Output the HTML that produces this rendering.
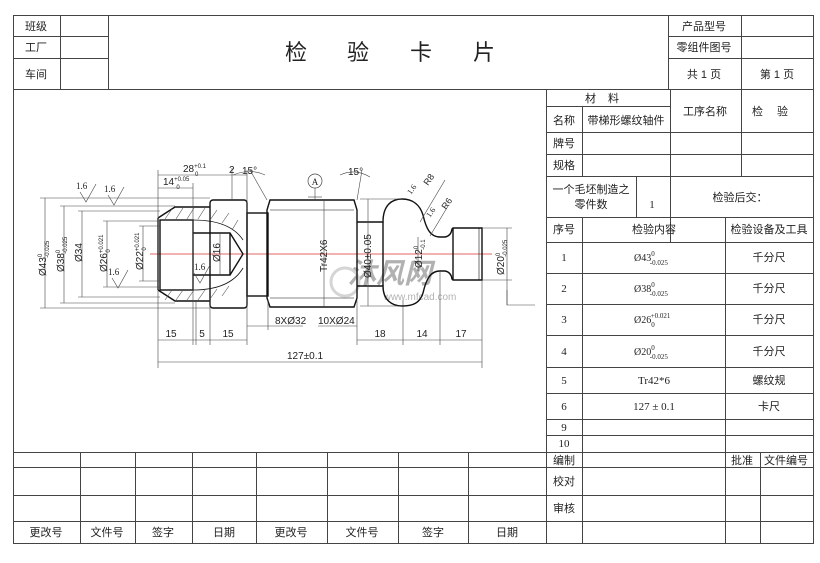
<!DOCTYPE html>
<html><head><meta charset="utf-8"><style>
html,body{margin:0;padding:0;background:#fff}
svg{display:block}
text{font-family:"Liberation Sans","Noto Sans CJK SC",sans-serif;fill:#222}
.s{font-family:"Liberation Serif","Noto Serif CJK SC",serif}
</style></head><body>
<svg width="820" height="563" viewBox="0 0 820 563" xmlns="http://www.w3.org/2000/svg">
<g stroke="#444" stroke-width="1" fill="none">
<rect x="13.5" y="15.5" width="800" height="528"/>
<line x1="13" y1="89.5" x2="813" y2="89.5"/>
<line x1="13" y1="36.5" x2="108" y2="36.5"/><line x1="13" y1="58.5" x2="108" y2="58.5"/>
<line x1="668" y1="36.5" x2="813" y2="36.5"/><line x1="668" y1="58.5" x2="813" y2="58.5"/>
<line x1="60.5" y1="15" x2="60.5" y2="89"/><line x1="108.5" y1="15" x2="108.5" y2="89"/>
<line x1="668.5" y1="15" x2="668.5" y2="89"/><line x1="741.5" y1="15" x2="741.5" y2="89"/>
<line x1="546.5" y1="89" x2="546.5" y2="544"/>
<line x1="546" y1="106.5" x2="670" y2="106.5"/>
<line x1="546" y1="132.5" x2="813" y2="132.5"/>
<line x1="546" y1="154.5" x2="813" y2="154.5"/>
<line x1="546" y1="176.5" x2="813" y2="176.5"/>
<line x1="546" y1="217.5" x2="813" y2="217.5"/>
<line x1="546" y1="242.5" x2="813" y2="242.5"/>
<line x1="546" y1="273.5" x2="813" y2="273.5"/>
<line x1="546" y1="304.5" x2="813" y2="304.5"/>
<line x1="546" y1="335.5" x2="813" y2="335.5"/>
<line x1="546" y1="367.5" x2="813" y2="367.5"/>
<line x1="546" y1="393.5" x2="813" y2="393.5"/>
<line x1="546" y1="419.5" x2="813" y2="419.5"/>
<line x1="546" y1="435.5" x2="813" y2="435.5"/>
<line x1="13" y1="452.5" x2="813" y2="452.5"/>
<line x1="13" y1="467.5" x2="813" y2="467.5"/>
<line x1="13" y1="495.5" x2="813" y2="495.5"/>
<line x1="13" y1="521.5" x2="813" y2="521.5"/>
<line x1="582.5" y1="106" x2="582.5" y2="176"/>
<line x1="670.5" y1="89" x2="670.5" y2="242"/>
<line x1="741.5" y1="89" x2="741.5" y2="176"/>
<line x1="636.5" y1="176" x2="636.5" y2="217"/>
<line x1="582.5" y1="217" x2="582.5" y2="544"/>
<line x1="725.5" y1="217" x2="725.5" y2="544"/>
<line x1="760.5" y1="452" x2="760.5" y2="544"/>
<line x1="80.5" y1="452" x2="80.5" y2="544"/><line x1="135.5" y1="452" x2="135.5" y2="544"/>
<line x1="192.5" y1="452" x2="192.5" y2="544"/><line x1="256.5" y1="452" x2="256.5" y2="544"/>
<line x1="327.5" y1="452" x2="327.5" y2="544"/><line x1="398.5" y1="452" x2="398.5" y2="544"/>
<line x1="468.5" y1="452" x2="468.5" y2="544"/>
</g>
<g font-size="11">
<text x="25" y="30">班级</text><text x="25" y="51">工厂</text><text x="25" y="78">车间</text>
<text x="704" y="30" text-anchor="middle">产品型号</text>
<text x="704" y="51" text-anchor="middle">零组件图号</text>
<text x="704" y="78" text-anchor="middle">共 1 页</text>
<text x="777" y="78" text-anchor="middle">第 1 页</text>
</g>
<g font-size="22" text-anchor="middle">
<text x="296" y="60">检</text><text x="358" y="60">验</text><text x="421" y="60">卡</text><text x="484" y="60">片</text>
</g>
<g font-size="11" text-anchor="middle">
<text x="608" y="102" letter-spacing="12">材料</text>
<text x="564" y="124">名称</text><text x="626" y="124">带梯形螺纹轴件</text>
<text x="705" y="115">工序名称</text><text x="777" y="115" letter-spacing="14">检验</text>
<text x="564" y="147">牌号</text><text x="564" y="169">规格</text>
<text x="591" y="193">一个毛坯制造之</text><text x="591" y="208">零件数</text>
<text x="652" y="208" class="s">1</text>
<text x="740" y="201">检验后交：</text>
<text x="564" y="233">序号</text><text x="654" y="233">检验内容</text><text x="769" y="233">检验设备及工具</text>
<text x="769" y="261">千分尺</text><text x="769" y="292">千分尺</text><text x="769" y="323">千分尺</text><text x="769" y="355">千分尺</text>
<text x="769" y="384">螺纹规</text><text x="769" y="410">卡尺</text>
<text x="742" y="464">批准</text><text x="786" y="464">文件编号</text>
</g>
<g font-size="11" class="s" text-anchor="middle">
<text x="564" y="261" class="s">1</text><text x="564" y="292" class="s">2</text><text x="564" y="323" class="s">3</text>
<text x="564" y="355" class="s">4</text><text x="564" y="384" class="s">5</text><text x="564" y="410" class="s">6</text>
<text x="564" y="431" class="s">9</text><text x="564" y="447" class="s">10</text>
<text x="654" y="384" class="s">Tr42*6</text><text x="654" y="410" class="s">127 ± 0.1</text>
</g>
<g font-size="10" class="s">
<text x="634" y="261" class="s">Ø43<tspan font-size="7" dy="-5">0</tspan><tspan font-size="7" dx="-5" dy="9">-0.025</tspan></text>
<text x="634" y="292" class="s">Ø38<tspan font-size="7" dy="-5">0</tspan><tspan font-size="7" dx="-5" dy="9">-0.025</tspan></text>
<text x="634" y="323" class="s">Ø26<tspan font-size="7" dy="4">0</tspan><tspan font-size="7" dx="-4" dy="-9">+0.021</tspan></text>
<text x="634" y="355" class="s">Ø20<tspan font-size="7" dy="-5">0</tspan><tspan font-size="7" dx="-5" dy="9">-0.025</tspan></text>
</g>
<g font-size="11" text-anchor="middle">
<text x="564" y="464">编制</text><text x="564" y="485">校对</text><text x="564" y="512">审核</text>
<text x="46" y="536">更改号</text><text x="107" y="536">文件号</text><text x="163" y="536">签字</text><text x="224" y="536">日期</text>
<text x="291" y="536">更改号</text><text x="362" y="536">文件号</text><text x="433" y="536">签字</text><text x="507" y="536">日期</text>
</g>
<g opacity="0.35">
<text x="390" y="283" font-size="28" font-weight="bold" fill="#666" font-style="italic" text-anchor="middle">沐风网</text>
<text x="420" y="300" font-size="10" fill="#666" text-anchor="middle">www.mfcad.com</text>
<circle cx="345" cy="282" r="14" fill="none" stroke="#888" stroke-width="3"/>
</g>
<line x1="150" y1="254" x2="492" y2="254" stroke="#d33" stroke-width="0.7"/>
<g stroke="#111" stroke-width="1.4" fill="none">
<path d="M158,218 L175,207 L210,207"/>
<path d="M158,290 L175,301 L210,301"/>
<line x1="158" y1="218" x2="158" y2="290"/>
<rect x="160" y="220" width="33" height="70"/>
<path d="M193,233 L230,233 L243,254 L230,275 L193,275"/>
<line x1="230" y1="233" x2="230" y2="275"/>
<path d="M193,220 Q230,220 243,240 M193,290 Q230,290 243,268" stroke-width="0.8"/>
<rect x="210" y="200" width="37" height="108" rx="3"/>
<rect x="247" y="213" width="21" height="83"/>
<path d="M270,200 L354,200 L357,210 L357,298 L354,307 L270,307 L267,298 L267,210 Z"/>
<line x1="270" y1="210" x2="354" y2="210" stroke-width="0.6"/>
<line x1="270" y1="298" x2="354" y2="298" stroke-width="0.6"/>
<path d="M357,222 L383,222 C383,205 392,199 402,199 C413,199 420,205 423,215 C426,228 430,237 440,237 L445,237 Q451,236 452,229 L453,228 L482,228 L482,280 L453,280 L452,279 Q451,272 445,271 L440,271 C430,271 426,280 423,293 C420,303 413,306 402,306 C392,306 383,300 383,286 L357,286"/>
<line x1="383" y1="222" x2="383" y2="286"/>
<line x1="453" y1="228" x2="453" y2="280"/>
<line x1="479" y1="228" x2="479" y2="280" stroke-width="0.6"/>
</g>
<g stroke="#555" stroke-width="0.6">
<line x1="165" y1="219" x2="172" y2="209"/><line x1="176" y1="219" x2="183" y2="208"/><line x1="187" y1="219" x2="194" y2="208"/>
<line x1="198" y1="219" x2="205" y2="208"/><line x1="210" y1="220" x2="217" y2="210"/><line x1="222" y1="223" x2="229" y2="213"/><line x1="232" y1="230" x2="238" y2="220"/>
<line x1="165" y1="300" x2="172" y2="290"/><line x1="176" y1="300" x2="183" y2="290"/><line x1="187" y1="300" x2="194" y2="290"/>
<line x1="198" y1="300" x2="205" y2="290"/><line x1="210" y1="299" x2="217" y2="289"/><line x1="222" y1="296" x2="229" y2="286"/>
</g>
<g stroke="#444" stroke-width="0.6" fill="none">
<line x1="45" y1="198" x2="45" y2="308"/><line x1="40" y1="198" x2="210" y2="198"/><line x1="40" y1="308" x2="210" y2="308"/>
<line x1="64" y1="206" x2="64" y2="303"/><line x1="60" y1="206" x2="175" y2="206"/><line x1="60" y1="303" x2="175" y2="303"/>
<line x1="82" y1="211" x2="82" y2="297"/><line x1="78" y1="211" x2="160" y2="211"/><line x1="78" y1="297" x2="160" y2="297"/>
<line x1="107" y1="221" x2="107" y2="287"/><line x1="103" y1="221" x2="160" y2="221"/><line x1="103" y1="287" x2="160" y2="287"/>
<line x1="143" y1="226" x2="143" y2="281"/><line x1="139" y1="226" x2="160" y2="226"/><line x1="139" y1="281" x2="160" y2="281"/>
<line x1="220" y1="233" x2="220" y2="275"/>
<line x1="158" y1="170" x2="158" y2="368"/><line x1="193" y1="183" x2="193" y2="345"/>
<line x1="247" y1="170" x2="247" y2="345"/><line x1="210" y1="300" x2="210" y2="345"/>
<line x1="158" y1="175" x2="247" y2="175"/><line x1="158" y1="188" x2="193" y2="188"/>
<line x1="232" y1="168" x2="232" y2="200"/><line x1="158" y1="340" x2="247" y2="340"/><line x1="196" y1="300" x2="196" y2="345"/>
<line x1="158" y1="362" x2="482" y2="362"/>
<line x1="268" y1="300" x2="268" y2="330"/><line x1="357" y1="300" x2="357" y2="345"/>
<line x1="247" y1="326" x2="303" y2="326"/><line x1="318" y1="326" x2="357" y2="326"/>
<line x1="357" y1="340" x2="482" y2="340"/><line x1="403" y1="300" x2="403" y2="345"/><line x1="440" y1="270" x2="440" y2="345"/>
<line x1="482" y1="280" x2="482" y2="368"/>
<line x1="324" y1="200" x2="324" y2="307"/>
<line x1="368" y1="199" x2="368" y2="306"/><line x1="360" y1="199" x2="402" y2="199"/><line x1="360" y1="306" x2="402" y2="306"/>
<line x1="418" y1="237" x2="418" y2="271"/>
<line x1="507" y1="228" x2="507" y2="305"/><line x1="482" y1="228" x2="512" y2="228"/><line x1="482" y1="280" x2="512" y2="280"/>
<path d="M507,290 L507,305 L535,305"/>
<line x1="315" y1="188" x2="315" y2="200"/><line x1="308" y1="197" x2="322" y2="197"/>
<line x1="420" y1="222" x2="445" y2="180"/><line x1="430" y1="236" x2="448" y2="206"/>
<path d="M233,175 Q250,168 265,175 M340,175 Q355,168 370,177"/>
<line x1="267" y1="200" x2="250" y2="170"/><line x1="357" y1="200" x2="362" y2="170"/>
</g>
<circle cx="315" cy="181" r="7" fill="none" stroke="#444" stroke-width="0.7"/>
<text x="315" y="185" font-size="9" class="s" text-anchor="middle">A</text>
<g stroke="#444" stroke-width="0.6" fill="none">
<path d="M80,192 L86,202 L96,184"/><path d="M108,195 L114,205 L124,187"/>
<path d="M112,278 L118,288 L128,270"/><path d="M194,273 L200,283 L210,265"/>
</g>
<g font-size="9" class="s" fill="#333">
<text x="76" y="189" class="s">1.6</text><text x="104" y="192" class="s">1.6</text>
<text x="108" y="275" class="s">1.6</text><text x="194" y="270" class="s">1.6</text>
</g>
<g font-size="10">
<text x="183" y="172">28<tspan font-size="6" dy="-4">+0.1</tspan><tspan font-size="6" dx="-11" dy="8">0</tspan></text>
<text x="163" y="185">14<tspan font-size="6" dy="-4">+0.05</tspan><tspan font-size="6" dx="-13" dy="8">0</tspan></text>
<text x="229" y="173">2</text><text x="242" y="174">15°</text><text x="348" y="175">15°</text>
<text x="171" y="337" text-anchor="middle">15</text><text x="202" y="337" text-anchor="middle">5</text><text x="228" y="337" text-anchor="middle">15</text>
<text x="275" y="324">8XØ32</text><text x="318" y="324">10XØ24</text>
<text x="380" y="337" text-anchor="middle">18</text><text x="422" y="337" text-anchor="middle">14</text><text x="461" y="337" text-anchor="middle">17</text>
<text x="305" y="359" text-anchor="middle">127±0.1</text>
<text transform="translate(46,276) rotate(-90)">Ø43<tspan font-size="6" dy="-4">0</tspan><tspan font-size="6" dx="-4" dy="7">-0.025</tspan></text>
<text transform="translate(64,272) rotate(-90)">Ø38<tspan font-size="6" dy="-4">0</tspan><tspan font-size="6" dx="-4" dy="7">-0.025</tspan></text>
<text transform="translate(82,262) rotate(-90)">Ø34</text>
<text transform="translate(107,272) rotate(-90)">Ø26<tspan font-size="6" dy="-4">+0.021</tspan><tspan font-size="6" dx="-18" dy="7">0</tspan></text>
<text transform="translate(143,270) rotate(-90)">Ø22<tspan font-size="6" dy="-4">+0.021</tspan><tspan font-size="6" dx="-18" dy="7">0</tspan></text>
<text transform="translate(220,262) rotate(-90)">Ø16</text>
<text transform="translate(327,272) rotate(-90)">Tr42X6</text>
<text transform="translate(371,278) rotate(-90)">Ø40±0.05</text>
<text transform="translate(422,268) rotate(-90)">Ø12<tspan font-size="6" dy="-4">0</tspan><tspan font-size="6" dx="-4" dy="7">-0.1</tspan></text>
<text transform="translate(504,275) rotate(-90)">Ø20<tspan font-size="6" dy="-4">0</tspan><tspan font-size="6" dx="-4" dy="7">-0.025</tspan></text>
<text transform="translate(428,186) rotate(-55)" font-size="9">R8</text>
<text transform="translate(446,210) rotate(-55)" font-size="9">R6</text>
<text transform="translate(411,195) rotate(-55)" font-size="8" class="s">1.6</text>
<text transform="translate(430,218) rotate(-55)" font-size="8" class="s">1.6</text>
</g>
</svg>
</body></html>
